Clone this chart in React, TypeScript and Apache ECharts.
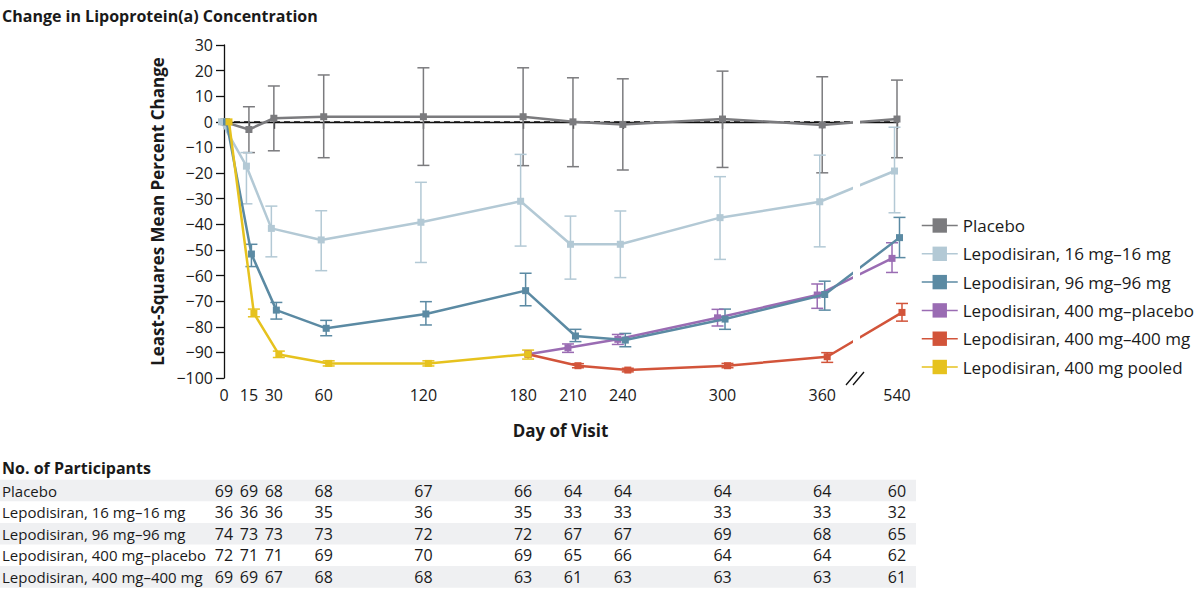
import React, { useEffect, useRef } from "react";
import * as echarts from "echarts";

// ---------- DATA ----------
const days = [0, 15, 30, 60, 120, 180, 210, 240, 300, 360, 540];
const tickDays = [0, 15, 30, 60, 120, 180, 210, 240, 300, 360, 540];

const placeboMean = [0, -3, 1.4, 2, 2, 2, 0, -1, 1.1, -1.2, 1.1];
const placeboLo = [null, -12, -11.3, -14, -17, -17.1, -17.5, -18.8, -17.8, -19.9, -14];
const placeboHi = [null, 5.9, 14, 18.3, 21.1, 21.1, 17.2, 16.8, 19.8, 17.6, 16.3];

const s16Mean = [0, -17.3, -41.6, -46.1, -39.2, -31, -47.8, -47.8, -37.4, -31.2, -19.2];
const s16Lo = [null, -32, -52.7, -58.1, -54.9, -48.5, -61.4, -60.8, -53.7, -48.8, -35.5];
const s16Hi = [null, -12, -32.9, -34.7, -23.6, -12.7, -36.8, -34.8, -21.4, -13, -2.1];

const s96Mean = [0, -51.6, -73.5, -80.6, -75, -65.9, -83.6, -85.2, -77, -67.4, -45.2];
const s96Lo = [null, -56.5, -77, -83.5, -79.3, -71.8, -85.8, -87.8, -81, -73.5, -53];
const s96Hi = [null, -47.8, -70.5, -77.5, -70.2, -59.1, -81, -82.6, -73.1, -62.2, -37.3];

const pooledDays = [0, 15, 30, 60, 120, 180];
const pooledMean = [0, -74.8, -90.8, -94.3, -94.3, -90.7];
const pooledLo = [null, -76.1, -92, -95.3, -95.3, -92.6];
const pooledHi = [null, -73.1, -89.5, -93.3, -93.3, -89.1];

const extDays = [210, 240, 300, 360, 540];
const p400Mean = [-88.2, -84.9, -76.5, -67.6, -53.3];
const p400Lo = [-90, -86.9, -79.7, -72.8, -58.8];
const p400Hi = [-86.7, -83, -73.2, -63.3, -47.2];

const s400Mean = [-95.2, -96.9, -95.2, -91.7, -74.4];
const s400Lo = [-96, -97.6, -96, -93.9, -77.8];
const s400Hi = [-94.4, -96.2, -94.3, -90.1, -70.9];

const seriesNames = [
  "Placebo",
  "Lepodisiran, 16 mg\u201316 mg",
  "Lepodisiran, 96 mg\u201396 mg",
  "Lepodisiran, 400 mg\u2013placebo",
  "Lepodisiran, 400 mg\u2013400 mg",
  "Lepodisiran, 400 mg pooled",
];

const tableLabels = [
  "Placebo",
  "Lepodisiran, 16 mg\u201316 mg",
  "Lepodisiran, 96 mg\u201396 mg",
  "Lepodisiran, 400 mg\u2013placebo",
  "Lepodisiran, 400 mg\u2013400 mg",
];
const tablePlacebo = [69, 69, 68, 68, 67, 66, 64, 64, 64, 64, 60];
const table16 = [36, 36, 36, 35, 36, 35, 33, 33, 33, 33, 32];
const table96 = [74, 73, 73, 73, 72, 72, 67, 67, 69, 68, 65];
const table400p = [72, 71, 71, 69, 70, 69, 65, 66, 64, 64, 62];
const table400 = [69, 69, 67, 68, 68, 63, 61, 63, 63, 63, 61];

// ---------- STYLE ----------
const FONT = "'Open Sans', 'Noto Sans', sans-serif";
const COLORS = ["#7b7b7e", "#b3c9d5", "#5b8aa3", "#9a6cb3", "#d2543a", "#e6c21e"];
const OFFSETS = [0, -1.5, 1.5, -3, 3, 3];
const GRID = { left: 224, top: 45, width: 673, height: 333 };
const X_MAX = 405;

// broken axis: 360 -> 540 compressed
const toAxis = (d: number) => (d > 360 ? 360 + (d - 360) * 0.25 : d);
const xPix = (a: number) => GRID.left + (a * GRID.width) / X_MAX;

function pts(ds: number[], vals: number[], off: number) {
  return ds.map((d, i) => [toAxis(d) + off, vals[i]]);
}
function bars(ds: number[], lo: (number | null)[], hi: (number | null)[], off: number) {
  const out: number[][] = [];
  ds.forEach((d, i) => {
    if (lo[i] != null && hi[i] != null) out.push([toAxis(d) + off, lo[i] as number, hi[i] as number]);
  });
  return out;
}

function errSeries(name: string, color: string, data: number[][]) {
  return {
    type: "custom",
    name,
    data,
    clip: false,
    silent: true,
    z: 2,
    encode: { x: 0, y: [1, 2] },
    renderItem: (_p: any, api: any) => {
      const x = api.value(0);
      const a = api.coord([x, api.value(1)]);
      const b = api.coord([x, api.value(2)]);
      const w = 6;
      const st = { stroke: color, lineWidth: 1.5 };
      return {
        type: "group",
        children: [
          { type: "line", shape: { x1: a[0], y1: a[1], x2: b[0], y2: b[1] }, style: st },
          { type: "line", shape: { x1: a[0] - w, y1: a[1], x2: a[0] + w, y2: a[1] }, style: st },
          { type: "line", shape: { x1: b[0] - w, y1: b[1], x2: b[0] + w, y2: b[1] }, style: st },
        ],
      };
    },
  };
}

function lineSeries(name: string, color: string, data: number[][], z = 3) {
  return {
    type: "line",
    name,
    data,
    clip: false,
    z,
    symbol: "rect",
    symbolSize: 7,
    itemStyle: { color },
    lineStyle: { color, width: 2.5 },
  };
}

export default function App() {
  const ref = useRef<HTMLDivElement>(null);
  useEffect(() => {
    const chart = echarts.init(ref.current!, null, { renderer: "svg" });

    const pooledLast = [toAxis(180) + OFFSETS[5], pooledMean[pooledMean.length - 1]];

    const series: any[] = [
      {
        type: "line",
        name: "ref",
        data: [[0, 0], [414.5, 0]],
        clip: false,
        silent: true,
        symbol: "none",
        z: 1,
        lineStyle: { color: "#111", width: 1.2, type: [6, 4] },
      },
      errSeries("e0", COLORS[0], bars(days, placeboLo, placeboHi, OFFSETS[0])),
      errSeries("e1", COLORS[1], bars(days, s16Lo, s16Hi, OFFSETS[1])),
      errSeries("e2", COLORS[2], bars(days, s96Lo, s96Hi, OFFSETS[2])),
      errSeries("e3", COLORS[3], bars(extDays, p400Lo, p400Hi, OFFSETS[3])),
      errSeries("e4", COLORS[4], bars(extDays, s400Lo, s400Hi, OFFSETS[4])),
      errSeries("e5", COLORS[5], bars(pooledDays, pooledLo, pooledHi, OFFSETS[5])),
      lineSeries(seriesNames[0], COLORS[0], pts(days, placeboMean, OFFSETS[0])),
      lineSeries(seriesNames[1], COLORS[1], pts(days, s16Mean, OFFSETS[1])),
      lineSeries(seriesNames[2], COLORS[2], pts(days, s96Mean, OFFSETS[2]), 4),
      lineSeries(seriesNames[3], COLORS[3], [pooledLast, ...pts(extDays, p400Mean, OFFSETS[3])]),
      lineSeries(seriesNames[4], COLORS[4], [pooledLast, ...pts(extDays, s400Mean, OFFSETS[4])]),
      lineSeries(seriesNames[5], COLORS[5], pts(pooledDays, pooledMean, OFFSETS[5]), 5),
    ];

    const tableRows = [tablePlacebo, table16, table96, table400p, table400];
    const rowY0 = 490.5;
    const rowH = 21.6;
    const graphics: any[] = [];
    const txt = (text: string, x: number, y: number, opts: any = {}) => ({
      type: "text",
      x,
      y,
      z: 60,
      style: {
        text,
        fill: "#1a1a1a",
        fontSize: opts.fontSize || 16,
        fontFamily: FONT,
        align: opts.align || "left",
        textAlign: opts.align || "left",
        verticalAlign: "middle",
        textVerticalAlign: "middle",
        fontWeight: opts.bold ? "bold" : "normal",
      },
    });
    // title
    graphics.push(txt("Change in Lipoprotein(a) Concentration", 2, 16, { bold: true, fontSize: 16 }));
    // break gap & marks
    graphics.push({ type: "rect", z: 50, shape: { x: 853, y: 45, width: 7, height: 326 }, style: { fill: "#fff" } });
    graphics.push({ type: "rect", z: 50, shape: { x: 848, y: 374, width: 12, height: 7 }, style: { fill: "#fff" } });
    graphics.push({ type: "line", z: 51, shape: { x1: 846, y1: 385, x2: 857, y2: 372 }, style: { stroke: "#111", lineWidth: 1.3 } });
    graphics.push({ type: "line", z: 51, shape: { x1: 853, y1: 385, x2: 864, y2: 372 }, style: { stroke: "#111", lineWidth: 1.3 } });
    // table
    graphics.push(txt("No. of Participants", 2, 468, { bold: true }));
    tableRows.forEach((row, r) => {
      const y = rowY0 + r * rowH;
      if (r % 2 === 0) {
        graphics.push({ type: "rect", z: 40, shape: { x: 0, y: y - rowH / 2, width: 916, height: rowH }, style: { fill: "#eff0f2" } });
      }
      graphics.push(txt(tableLabels[r], 2, y, { fontSize: 15 }));
      row.forEach((v, i) => {
        graphics.push(txt(String(v), xPix(toAxis(tickDays[i])), y, { align: "center" }));
      });
    });

    const tickAxis = tickDays.map(toAxis);

    chart.setOption({
      animation: false,
      backgroundColor: "#fff",
      textStyle: { fontFamily: FONT },
      grid: { ...GRID, containLabel: false },
      xAxis: {
        type: "value",
        min: 0,
        max: X_MAX,
        splitLine: { show: false },
        axisLine: { lineStyle: { color: "#111", width: 1.3 } },
        axisTick: { show: true, customValues: tickAxis, length: 7, lineStyle: { color: "#111", width: 1.3 } },
        axisLabel: {
          customValues: tickAxis,
          formatter: (v: number) => String(v > 360 ? 540 : Math.round(v)),
          fontSize: 16,
          color: "#1a1a1a",
          margin: 9,
          fontFamily: FONT,
        },
        name: "Day of Visit",
        nameLocation: "middle",
        nameGap: 44,
        nameTextStyle: { fontSize: 17, fontWeight: "bold", color: "#1a1a1a", fontFamily: FONT },
      },
      yAxis: {
        type: "value",
        min: -100,
        max: 30,
        interval: 10,
        splitLine: { show: false },
        axisLine: { show: true, lineStyle: { color: "#111", width: 1.3 } },
        axisTick: { show: true, length: 8, lineStyle: { color: "#111", width: 1.3 } },
        axisLabel: {
          fontSize: 16,
          color: "#1a1a1a",
          margin: 11,
          fontFamily: FONT,
          formatter: (v: number) => (v < 0 ? "\u2212" + Math.abs(v) : String(v)),
        },
        name: "Least-Squares Mean Percent Change",
        nameLocation: "middle",
        nameGap: 58,
        nameTextStyle: { fontSize: 17, fontWeight: "bold", color: "#1a1a1a", fontFamily: FONT },
      },
      legend: {
        data: seriesNames,
        orient: "vertical",
        left: 916,
        top: 212,
        itemWidth: 36,
        itemHeight: 18,
        itemGap: 11.3,
        selectedMode: false,
        lineStyle: { width: 1.5 },
        textStyle: { fontSize: 17, color: "#1a1a1a", fontFamily: FONT },
      },
      series,
      graphic: { elements: graphics },
    });
    return () => chart.dispose();
  }, []);
  return <div ref={ref} style={{ position: "absolute", left: 0, top: 0, width: 1200, height: 600 }} />;
}
